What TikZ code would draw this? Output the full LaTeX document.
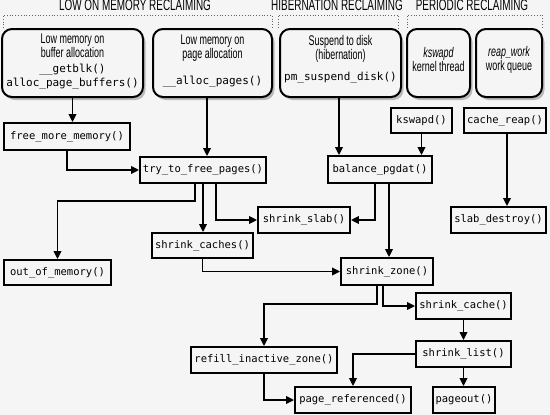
\documentclass[tikz,border=0pt]{standalone}
\usepackage{fontspec}
\setmonofont{DejaVu Sans Mono}
\newfontfamily\condfont[FakeStretch=0.64]{Liberation Sans}
\usetikzlibrary{arrows.meta,shadows}
\definecolor{bg}{RGB}{245,245,245}
\tikzset{
  fbox/.style={draw, line width=1.8pt, fill=bg, inner sep=0pt,
    font=\ttfamily\fontsize{10.5}{12}\selectfont},
  rbox/.style={draw, line width=2pt, rounded corners=10pt, fill=bg, inner sep=0pt,
    drop shadow={shadow xshift=2.5pt, shadow yshift=-3pt, fill=black!50}},
  ctext/.style={inner sep=0pt, align=center, font=\condfont\fontsize{14}{11.5}\selectfont},
  mtext/.style={inner sep=0pt, align=center, font=\ttfamily\fontsize{11}{14}\selectfont},
  arr/.style={line width=1.7pt, -{Triangle[length=8pt,width=7.5pt]}},
  bracket/.style={black!60, dotted, line width=0.8pt},
  head/.style={inner sep=0pt, font=\condfont\fontsize{15.5}{16}\selectfont}
}
\begin{document}
\begin{tikzpicture}[x=1pt,y=-1pt]
\fill[bg] (0,0) rectangle (550,415);
\useasboundingbox (0,0) rectangle (550,415);
% headers
\node[head] (h1) at (135,5.5) {LOW ON MEMORY RECLAIMING};
\node[head] (h2) at (337,5.5) {HIBERNATION RECLAIMING};
\node[head] (h3) at (472,5.5) {PERIODIC RECLAIMING};
\draw[bracket] (3,28) -- (3,15) -- (272,15) -- (272,28);
\draw[bracket] (278,28) -- (278,15) -- (398,15) -- (398,28);
\draw[bracket] (407,28) -- (407,15) -- (542,15) -- (542,28);
% top rounded boxes
\node[rbox, minimum width=141pt, minimum height=68pt] (b1) at (72.5,63) {};
\node[ctext] (b1a) at (72.5,46) {Low memory on\\buffer allocation};
\node[mtext] (b1b) at (72.5,76.5) {\_\_getblk()\\alloc\_page\_buffers()};
\node[rbox, minimum width=119pt, minimum height=68pt] (b2) at (212.5,63) {};
\node[ctext] (b2a) at (212.5,48.5) {Low memory on\\page allocation};
\node[mtext] (b2b) at (212.5,82) {\_\_alloc\_pages()};
\node[rbox, minimum width=121pt, minimum height=68pt] (b3) at (340.5,63) {};
\node[ctext] (b3a) at (340.5,48.5) {Suspend to disk\\(hibernation)};
\node[mtext] (b3b) at (340.5,77.5) {pm\_suspend\_disk()};
\node[rbox, minimum width=63pt, minimum height=68pt] (b4) at (438.5,63) {};
\node[ctext] (b4a) at (438.5,59.5) {\itshape kswapd\\kernel thread};
\node[rbox, minimum width=66pt, minimum height=68pt] (b5) at (509,63) {};
\node[ctext] (b5a) at (509,59.5) {\itshape reap\_work\\work queue};
% function boxes
\node[fbox, minimum width=126pt, minimum height=27pt] (fmm) at (67,136.5) {free\_more\_memory()};
\node[fbox, minimum width=126pt, minimum height=26pt] (ttfp) at (203,170) {try\_to\_free\_pages()};
\node[fbox, minimum width=107pt, minimum height=25pt] (oom) at (57.5,272.5) {out\_of\_memory()};
\node[fbox, minimum width=101pt, minimum height=25pt] (sc) at (202.5,245.5) {shrink\_caches()};
\node[fbox, minimum width=92pt, minimum height=26pt] (ss) at (304,220) {shrink\_slab()};
\node[fbox, minimum width=61pt, minimum height=25pt] (ksw) at (421.5,120.5) {kswapd()};
\node[fbox, minimum width=82pt, minimum height=25pt] (cr) at (505,120.5) {cache\_reap()};
\node[fbox, minimum width=104pt, minimum height=27pt] (bp) at (380,169.5) {balance\_pgdat()};
\node[fbox, minimum width=95pt, minimum height=26pt] (sd) at (498.5,220) {slab\_destroy()};
\node[fbox, minimum width=92pt, minimum height=27pt] (sz) at (387,271.5) {shrink\_zone()};
\node[fbox, minimum width=95pt, minimum height=26pt] (sch) at (463.5,306) {shrink\_cache()};
\node[fbox, minimum width=95pt, minimum height=26pt] (sl) at (463.5,354) {shrink\_list()};
\node[fbox, minimum width=146pt, minimum height=26pt] (riz) at (264,360) {refill\_inactive\_zone()};
\node[fbox, minimum width=116pt, minimum height=26pt] (pr) at (353,400) {page\_referenced()};
\node[fbox, minimum width=62pt, minimum height=26pt] (po) at (464,400) {pageout()};
% connectors
\draw[arr] (b1.south) -- (b1.south |- fmm.north);
\draw[arr] ([xshift=-5.5pt]b2.south) -- ([xshift=-5.5pt]b2.south |- ttfp.north);
\draw[arr] (fmm.south) |- (ttfp.west);
\draw[arr] ([xshift=-8pt]ttfp.south) -- ++(0,17) -| (oom.north);
\draw[arr] (ttfp.south) -- (ttfp.south |- sc.north);
\draw[arr] ([xshift=13pt]ttfp.south) |- (ss.west);
\draw[arr] ([xshift=-1.5pt]b3.south) -- ([xshift=-1.5pt]b3.south |- bp.north);
\draw[arr] (ksw.south) -- (ksw.south |- bp.north);
\draw[arr] ([xshift=-5pt]bp.south) |- (ss.east);
\draw[arr] ([xshift=9pt]bp.south) -- ([xshift=9pt]bp.south |- sz.north);
\draw[arr] ([xshift=2pt]cr.south) -- ([xshift=2pt]cr.south |- sd.north);
\draw[arr] (sc.south) |- (sz.west);
\draw[arr] ([xshift=-10pt]sz.south) -- ++(0,18) -| (riz.north);
\draw[arr] ([xshift=-4pt]sz.south) |- (sch.west);
\draw[arr] (sch.south) -- (sl.north);
\draw[arr] (sl.west) -| (pr.north);
\draw[arr] (sl.south) -- (sl.south |- po.north);
\draw[arr] (riz.south) |- (pr.west);
\end{tikzpicture}
\end{document}
